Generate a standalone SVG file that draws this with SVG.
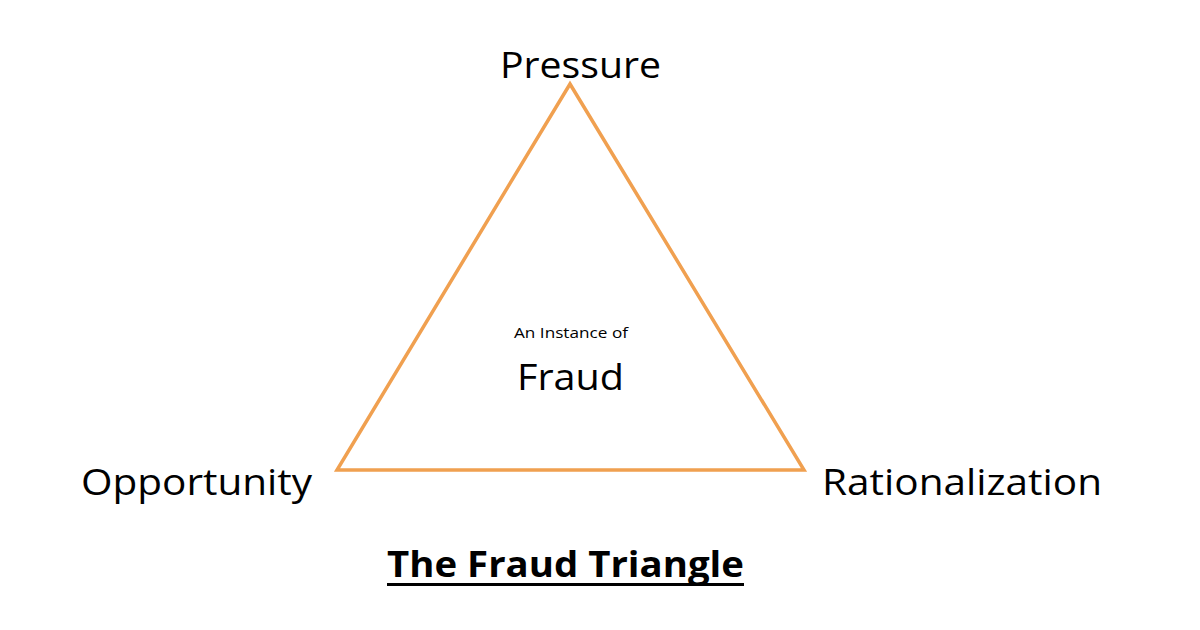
<svg xmlns="http://www.w3.org/2000/svg" width="1200" height="630" viewBox="0 0 1200 630">
<style>
text{font-family:"Open Sans","Noto Sans","Liberation Sans",sans-serif;fill:#000}
.l{font-size:36px}
</style>
<rect width="1200" height="630" fill="#fff"/>
<g id="connectors">
<polygon points="570,84 337,470 804,470" fill="none" stroke="#F0A050" stroke-width="3.5" stroke-linejoin="miter"/>
</g>
<g id="pressure"><text class="l" x="500" y="78" textLength="161" lengthAdjust="spacingAndGlyphs">Pressure</text></g>
<g id="opportunity"><text class="l" x="81" y="495" textLength="231" lengthAdjust="spacingAndGlyphs">Opportunity</text></g>
<g id="rationalization"><text class="l" x="822" y="495" textLength="280" lengthAdjust="spacingAndGlyphs">Rationalization</text></g>
<g id="center">
<text x="514" y="338" font-size="15" textLength="114" lengthAdjust="spacingAndGlyphs">An Instance of</text>
<text class="l" x="517" y="390" textLength="107" lengthAdjust="spacingAndGlyphs">Fraud</text>
</g>
<g id="title">
<text x="387" y="577" font-size="36" font-weight="bold" textLength="357" lengthAdjust="spacingAndGlyphs">The Fraud Triangle</text>
<rect x="387" y="583" width="357" height="3" fill="#000"/>
</g>
</svg>
